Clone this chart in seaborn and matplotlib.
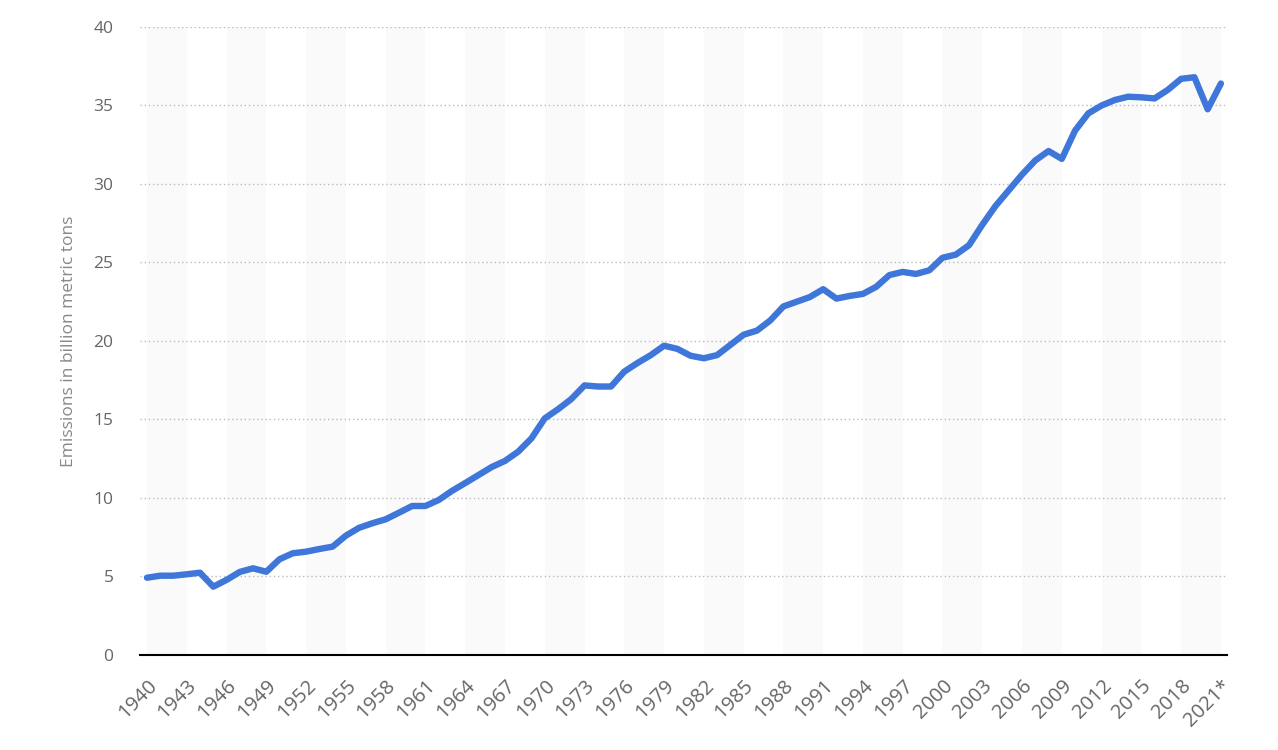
import matplotlib
matplotlib.use("Agg")
import matplotlib.pyplot as plt
import matplotlib.transforms as mtransforms
import seaborn as sns
import pandas as pd

years = list(range(1940, 2022))
emissions = [
    4.92, 5.05, 5.05, 5.14, 5.24, 4.35, 4.78, 5.29, 5.52, 5.30,
    6.10, 6.48, 6.58, 6.75, 6.90, 7.60, 8.10, 8.39, 8.64, 9.06,
    9.49, 9.49, 9.87, 10.45, 10.95, 11.46, 11.97, 12.36, 12.95, 13.80,
    15.07, 15.65, 16.30, 17.17, 17.10, 17.10, 18.05, 18.60, 19.10, 19.70,
    19.50, 19.06, 18.90, 19.10, 19.75, 20.40, 20.66, 21.30, 22.20, 22.50,
    22.80, 23.30, 22.70, 22.87, 23.00, 23.45, 24.20, 24.40, 24.27, 24.50,
    25.30, 25.50, 26.10, 27.40, 28.60, 29.60, 30.60, 31.50, 32.10, 31.60,
    33.40, 34.50, 35.00, 35.35, 35.56, 35.52, 35.45, 36.00, 36.70, 36.80,
    34.76, 36.40,
]
tick_years = list(range(1940, 2022, 3))
tick_labels = [str(y) for y in tick_years[:-1]] + ["2021*"]
y_ticks = [0, 5, 10, 15, 20, 25, 30, 35, 40]

df = pd.DataFrame({"year": years, "emissions": emissions})

sns.set_theme(style="white")
plt.rcParams["font.family"] = ["Open Sans", "DejaVu Sans"]

fig = plt.figure(figsize=(12.78, 7.5), dpi=100)
ax = fig.add_axes([0.1095, 0.1267, 0.8505, 0.8373])

# alternating column shading
for start in tick_years[::2]:
    ax.axvspan(start, start + 3, color="#fafafa", zorder=0, lw=0)

sns.lineplot(data=df, x="year", y="emissions", ax=ax, color="#3f76d9",
             linewidth=4.6, zorder=3, solid_capstyle="round", solid_joinstyle="round")

ax.set_xlim(1939.47, 2021.45)
ax.set_ylim(0, 40)
ax.set_yticks(y_ticks)
ax.set_xticks(tick_years)
ax.set_xticklabels(tick_labels, rotation=45, ha="right", rotation_mode="anchor")

# nudge rotated labels a bit to the left
shift = mtransforms.ScaledTranslation(-5 / 100, 0, fig.dpi_scale_trans)
for lbl in ax.get_xticklabels():
    lbl.set_transform(lbl.get_transform() + shift)

ax.yaxis.grid(True, linestyle=(0, (1, 2)), color="#bbbbbb", linewidth=1)
ax.xaxis.grid(False)
ax.set_axisbelow(True)

for side in ["top", "right", "left"]:
    ax.spines[side].set_visible(False)
ax.spines["bottom"].set_color("black")
ax.spines["bottom"].set_linewidth(1.5)
ax.spines["bottom"].set_zorder(4)

ax.tick_params(axis="y", length=0, pad=19, labelsize=12.5, labelcolor="#666666")
ax.tick_params(axis="x", length=0, pad=15, labelsize=14.5, labelcolor="#666666")

ax.set_xlabel("")
ax.set_ylabel("Emissions in billion metric tons", fontsize=12.5, color="#888888", labelpad=12)

fig.savefig("out.png", dpi=100)
